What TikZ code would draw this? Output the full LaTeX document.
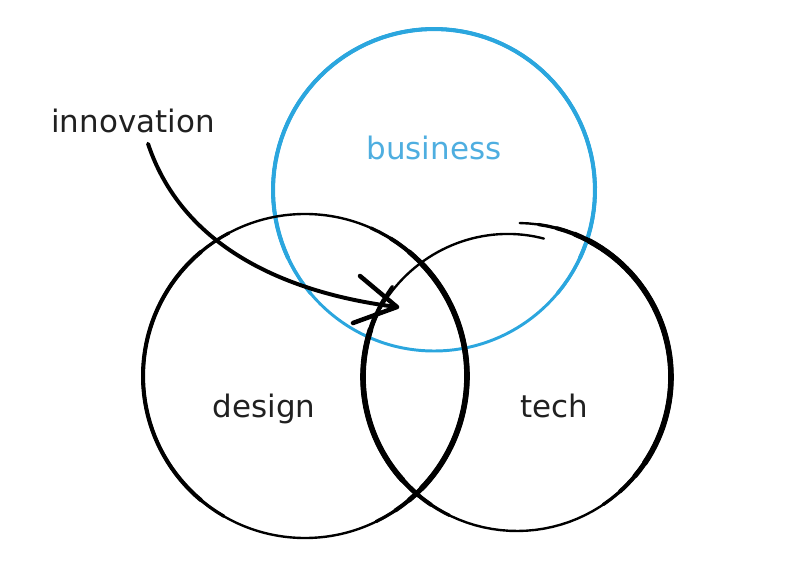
\documentclass[tikz,border=0pt]{standalone}
\usepackage{fontspec}
\setmainfont{DejaVu Sans}
\usetikzlibrary{positioning,calc}
\definecolor{bizblue}{RGB}{43,166,222}
\definecolor{biztext}{RGB}{78,174,224}
\definecolor{inktext}{RGB}{32,32,32}

\begin{document}
\begin{tikzpicture}[x=0.025cm, y=-0.025cm,
    word/.style={font=\fontsize{22}{26}\selectfont, text=inktext, anchor=base, inner sep=0},
    bizword/.style={word, text=biztext},
    pen/.style={draw=black, line width=1.7pt, line cap=round, line join=round},
    bizpen/.style={draw=bizblue, line width=2.1pt, line cap=round}
]
\useasboundingbox (0,0) rectangle (788,576);

% Business
\draw[bizpen] (434,190) circle[radius=161];
\foreach \w/\a/\b in {2.5/-40/220, 2.9/-25/205} {
    \draw[bizpen, line width=\w pt] plot[domain=\a:\b, samples=80] ({434+161*cos(\x)}, {190-161*sin(\x)});
}

% Design
\draw[pen] (305,376) circle[radius=162];
\foreach \w/\a/\b in {2.3/-64/66, 2.9/-56/58, 3.5/-50/50, 4/-44/44} {
    \draw[pen, line width=\w pt] plot[domain=\a:\b, samples=40] ({305+162*cos(\x)}, {376-162*sin(\x)});
}
\foreach \w/\a/\b in {2.3/118/240, 2.9/130/230} {
    \draw[pen, line width=\w pt] plot[domain=\a:\b, samples=40] ({305+162*cos(\x)}, {376-162*sin(\x)});
}

% Tech
\draw[pen] plot[domain=89:-200, samples=90] ({517+154*cos(\x)}, {377-154*sin(\x)});
\draw[pen] plot[domain=-200:-281, samples=40] ({517+(154-13*(-200-\x)/81)*cos(\x)}, {377-(154-13*(-200-\x)/81)*sin(\x)});
\foreach \w/\a/\b in {2.3/82/-56, 2.9/75/-48, 3.5/68/-40, 4/62/-34} {
    \draw[pen, line width=\w pt] plot[domain=\a:\b, samples=40] ({517+154*cos(\x)}, {377-154*sin(\x)});
}
\foreach \w/\a/\b in {2.3/-116/-216, 2.9/-124/-210, 3.5/-130/-204, 4/-138/-198} {
    \draw[pen, line width=\w pt] plot[domain=\a:\b, samples=40] ({517+154*cos(\x)}, {377-154*sin(\x)});
}

% Textes
\node[word] (innov) at (133,133) {innovation};
\node[bizword] (business) at (434,160) {business};
\node[word] (design) at (264,417) {design};
\node[word] (tech) at (554,417) {tech};

% Fleche
\coordinate (tip) at (397,307);
\draw[pen, line width=2.8pt] ($(innov.south)+(15,10)$) .. controls (185,255) and (300,295) .. (tip);
\draw[pen, line width=3.2pt] (tip) -- ++(-37,-31) (tip) -- ++(-44,16);

\end{tikzpicture}
\end{document}
